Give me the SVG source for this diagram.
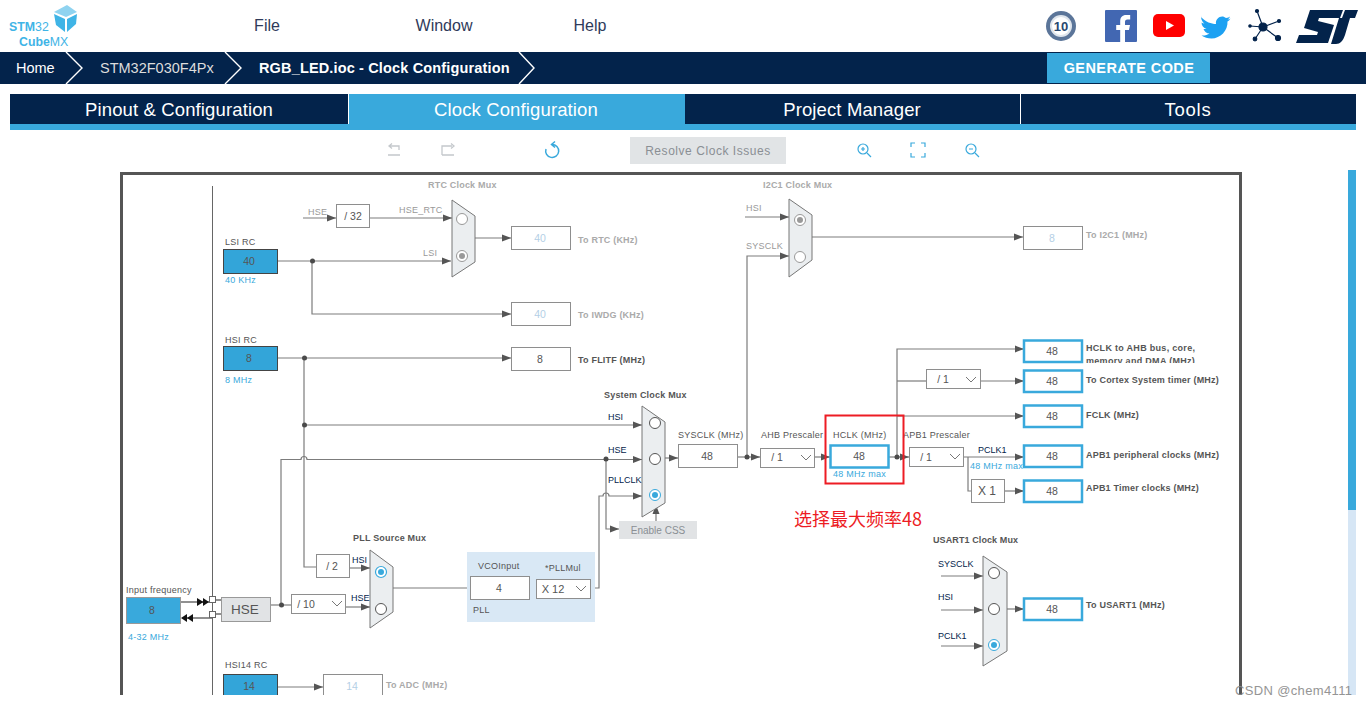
<svg xmlns="http://www.w3.org/2000/svg" width="1366" height="705" viewBox="0 0 1366 705">
<style>
text{font-family:"Liberation Sans",Arial,sans-serif;fill:#555}
.nav{font-size:16px;fill:#2f3a5a;text-anchor:middle}
.crumb{font-size:14.5px;fill:#fff}
.tab{font-size:18.5px;fill:#fff;text-anchor:middle;letter-spacing:.13px}
.lb{font-size:9px;letter-spacing:.25px}
.lbg{font-size:9px;fill:#999;letter-spacing:.25px}
.t{font-size:9px;font-weight:bold;fill:#555;letter-spacing:.2px}
.tg{font-size:9px;font-weight:bold;fill:#aaa;letter-spacing:.2px}
.sig{font-size:9px;fill:#03234b}
.blue{font-size:9px;fill:#39a9dc;letter-spacing:.25px}
.v{font-size:10.5px;text-anchor:middle;fill:#555}
.vd{font-size:10.5px;text-anchor:middle;fill:#b4cfe6}
.box{fill:#fff;stroke:#8e8e8e;stroke-width:1}
.src{fill:#33a5d9;stroke:#444;stroke-width:1}
.out{fill:#fff;stroke:#39a9dc;stroke-width:2.5}
.mux{fill:#ebeef0;stroke:#777;stroke-width:1}
.r{fill:#fff;stroke:#555;stroke-width:1}
.rg{fill:#fff;stroke:#999;stroke-width:1}
.ra{fill:#fff;stroke:#39a9dc;stroke-width:1}
.da{fill:#39a9dc}
.dg{fill:#999}
.w{fill:none;stroke:#7c7c7c;stroke-width:1.2}
.a{marker-end:url(#ah)}
.dot{fill:#4a4a4a}
.chev{fill:none;stroke:#777;stroke-width:1}
.crumbline{fill:none;stroke:#fff;stroke-width:1.4}
.ic{fill:none;stroke:#c4c8cc;stroke-width:1.3}
.icb{fill:none;stroke:#39a9dc;stroke-width:1.2}
</style>
<defs>
<marker id="ah" markerUnits="userSpaceOnUse" markerWidth="10" markerHeight="8" refX="9" refY="4" orient="auto"><path d="M0 .5 9 4 0 7.500z" fill="#555"/></marker>
</defs>
<rect width="1366" height="705" fill="#fff"/>

<g id="header">
<path d="M67 5 77 12 66 17 54 12z" fill="#8fd3f0"/>
<path d="M54 14 65 19 65 32 56 25z" fill="#3fb4e6"/>
<path d="M77 14 67 19 67 32 76 24z" fill="#3fb4e6"/>
<text transform="scale(.95 1)" style="font-size:13px;fill:#3fb4e6;font-weight:bold"><tspan x="9.470" y="31">STM<tspan font-weight="normal">32</tspan></tspan><tspan x="20" y="46">Cube<tspan font-weight="normal">MX</tspan></tspan></text>
<text class="nav" x="267" y="31">File</text>
<text class="nav" x="444" y="31">Window</text>
<text class="nav" x="590" y="31">Help</text>
<circle cx="1061" cy="26" r="15" fill="#5b7599"/><circle cx="1061" cy="26" r="11" fill="#dfe5ec"/><circle cx="1061" cy="26" r="9" fill="#fff"/>
<text x="1061" y="31" style="font-size:13px;font-weight:bold;fill:#27476e;text-anchor:middle">10</text>
<rect x="1105" y="10" width="32" height="32" rx="1" fill="#4267b2"/>
<path d="M1125 42V30h4l1-5h-5v-3c0-1.500.6-2.500 2.500-2.500h2.700V15h-4c-4 0-6 2.500-6 6v4h-4v5h4v12z" fill="#fff"/>
<rect x="1153" y="14" width="32" height="23" rx="5" fill="#f00"/>
<path d="M1166 21v9l8-4.500z" fill="#fff"/>
<path d="M1201 17c5 5 10 7 15 7-1-6 6-10 10-6 2 0 3-1 4-1.500-.5 1.500-1.500 2.500-2.500 3 1 0 2-.5 3-1-1 1.500-2 2.500-3 3 .5 9-7 17-16 17-4 0-7-1-10-3 3 .3 6-.5 8-2-3 0-5-2-6-4.500h3c-3-1-5-3.500-5-6.500 1 .5 2 1 3 1-3-2-4-6-3-9z" fill="#1da1f2"/>
<g fill="#03234b" stroke="#03234b" stroke-width="1.200">
<path d="M1263 27 1257 11M1263 27 1279 21M1263 27 1250 26M1263 27 1255 39M1263 27 1278 38" fill="none"/>
<circle cx="1263" cy="27" r="4"/><circle cx="1257" cy="11" r="1.500"/><circle cx="1279" cy="21" r="1.500"/><circle cx="1250" cy="26" r="1.200"/><circle cx="1255" cy="39" r="1.800"/><circle cx="1278" cy="38" r="2.500"/>
</g>
<path d="M1310 10H1343L1340 18H1319L1318 21L1334 25L1328 43H1296L1299 35H1317L1318 32L1304 28z" fill="#03234b"/>
<path d="M1345 10H1358L1355 18H1350L1345 35C1343 41 1340 44 1336 44H1331L1339 18H1342z" fill="#03234b"/>
</g>

<g id="breadcrumb">
<rect x="0" y="52" width="1366" height="32" fill="#03234b"/>
<text class="crumb" x="16" y="73">Home</text>
<path class="crumbline" d="M66 52 82 68 66 84"/>
<text class="crumb" x="100" y="73" style="fill:#ddd">STM32F030F4Px</text>
<path class="crumbline" d="M225 52 241 68 225 84"/>
<text class="crumb" x="259" y="73" style="font-weight:bold;letter-spacing:.15px">RGB_LED.ioc - Clock Configuration</text>
<path class="crumbline" d="M519 52 534 68 519 84"/>
<rect x="1047" y="53" width="163" height="30" fill="#39a9dc"/>
<text x="1129" y="73" style="font-size:14.500px;font-weight:bold;fill:#fff;text-anchor:middle;letter-spacing:.4px">GENERATE CODE</text>
</g>

<g id="tabs">
<rect x="10" y="94" width="1346" height="30" fill="#03234b"/>
<rect x="10" y="124" width="1346" height="6" fill="#39a9dc"/>
<rect x="349" y="94" width="336" height="30" fill="#39a9dc"/>
<path d="M348.500 94V124M1020.500 94V124" stroke="#fff" stroke-width="1"/>
<text class="tab" x="179" y="116">Pinout &amp; Configuration</text>
<text class="tab" x="516" y="116">Clock Configuration</text>
<text class="tab" x="852" y="116">Project Manager</text>
<text class="tab" x="1188" y="116" style="letter-spacing:.8px">Tools</text>
</g>

<g id="toolbar">
<path class="ic" d="M388 155H400M399 150V146H390M392 143.500 389 146 392 148.500"/>
<path class="ic" d="M442 155H454M442 155V146H452M451 143.500 454 146 451 148.500"/>
<path class="icb" style="stroke-width:1.500" d="M552 144.500A6.500 6.500 0 1 1 546 149M555 141.500 551.500 144.500 555 147.500"/>
<rect x="630" y="137" width="156" height="27" fill="#e1e4e6"/>
<text x="708" y="155" style="font-size:12px;fill:#8a8f94;text-anchor:middle;letter-spacing:.55px">Resolve Clock Issues</text>
<g class="icb"><circle cx="863" cy="149" r="5"/><path d="M867 153 871 157M861 149H865M863 147V151"/></g>
<path class="icb" d="M911 147V143H915M921 143H925V147M925 153V157H921M915 157H911V153"/>
<g class="icb"><circle cx="971" cy="149" r="5"/><path d="M975 153 979 157M969 149H973"/></g>
</g>

<g id="frame">
<path d="M121.500 695V173.500H1240.500V695" fill="none" stroke="#555" stroke-width="3"/>
<path d="M212.500 186V695" stroke="#666" stroke-width="1" fill="none"/>
<rect x="1348" y="170" width="8" height="525" fill="#d6e6f5"/>
<rect x="1348" y="170" width="8" height="340" fill="#39a9dc"/>
</g>

<g id="connectors">
<path class="w a" d="M303 218H336"/>
<path class="w a" d="M370 218H452"/>
<path class="w a" d="M277 261H451"/>
<path class="w a" d="M312 261V314H511"/>
<path class="w a" d="M475 238H511"/>
<path class="w a" d="M277 358H511"/>
<path class="w" d="M304 358V567H316"/>
<path class="w a" d="M304 425H642"/>
<path class="w a" d="M281 605V459.500H301a3 3 0 0 1 6 0H642"/>
<path class="w a" d="M606 459V529H619"/>
<path class="w a" d="M591 588H599V496H603a3 3 0 0 1 6 0H642"/>
<path class="w a" d="M656 521V505"/>
<path class="w a" d="M350 568H370"/>
<path class="w" d="M270 605H291"/>
<path class="w a" d="M345 607H370"/>
<path class="w" d="M393 588H470M530 588H536"/>
<path d="M181 602H210M212 618H183M215 600H221M215 614H221" stroke="#222" stroke-width="1.200" fill="none"/>
<path d="M197 598 203.500 602 197 606zM203 598 209 602 203 606zM187 614 181 618 187 622zM193 614 187 618 193 622z" fill="#111"/>
<path class="w a" d="M277 687H323"/>
<path class="w a" d="M665 458H678"/>
<path class="w a" d="M738 457H760"/>
<path class="w a" d="M747 457V256H789"/>
<path class="w a" d="M745 217H789"/>
<path class="w a" d="M812 237H1023"/>
<path class="w a" d="M815 457H830"/>
<path class="w a" d="M889 457H909"/>
<path class="w a" d="M897 457V349H1024"/>
<path class="w" d="M897 381H926"/>
<path class="w a" d="M980 381H1024"/>
<path class="w a" d="M897 416H1024"/>
<path class="w a" d="M964 457H1024"/>
<path class="w" d="M968 457V491H971"/>
<path class="w a" d="M1004 491H1024"/>
<path class="w a" d="M941 576H983"/>
<path class="w a" d="M941 610H983"/>
<path class="w a" d="M941 646H983"/>
<path class="w a" d="M1007 609H1024"/>
<circle class="dot" cx="312.500" cy="261" r="2.500"/>
<circle class="dot" cx="304.500" cy="358" r="2.500"/>
<circle class="dot" cx="304.500" cy="425" r="2.500"/>
<circle class="dot" cx="281.500" cy="605" r="2.500"/>
<circle class="dot" cx="606" cy="459" r="2.500"/>
<circle class="dot" cx="747" cy="457" r="2.500"/>
<circle class="dot" cx="897" cy="457" r="2.500"/>
</g>

<g id="rtc-mux">
<text class="tg" x="428" y="188">RTC Clock Mux</text>
<path class="mux" d="M452 200 475 216V262L452 277z"/>
<circle class="rg" cx="462" cy="219" r="5.500"/><circle class="rg" cx="462" cy="256" r="5.500"/><circle class="dg" cx="462" cy="256" r="3"/>
<text class="lbg" x="308" y="215">HSE</text><text class="lbg" x="399" y="213">HSE_RTC</text><text class="lbg" x="423" y="256">LSI</text>
</g>
<g id="div32"><rect class="box" x="336.500" y="204.500" width="33" height="23"/><text class="v" x="353" y="220">/ 32</text></g>
<g id="lsi-rc"><text class="lb" x="225" y="245">LSI RC</text><rect class="src" x="223.500" y="249.500" width="54" height="24"/><text class="v" x="249" y="265">40</text><text class="blue" x="225" y="283">40 KHz</text></g>
<g id="hsi-rc"><text class="lb" x="225" y="343">HSI RC</text><rect class="src" x="223.500" y="346.500" width="54" height="24"/><text class="v" x="249" y="362">8</text><text class="blue" x="225" y="383">8 MHz</text></g>
<g id="to-rtc"><rect class="box" x="511.500" y="226.500" width="59" height="23"/><text class="vd" x="540" y="242">40</text><text class="tg" x="578" y="243">To RTC (KHz)</text></g>
<g id="to-iwdg"><rect class="box" x="511.500" y="302.500" width="59" height="23"/><text class="vd" x="540" y="318">40</text><text class="tg" x="578" y="318">To IWDG (KHz)</text></g>
<g id="to-flitf"><rect class="box" x="511.500" y="347.500" width="59" height="23"/><text class="v" x="540" y="363">8</text><text class="t" x="578" y="363">To FLITF (MHz)</text></g>

<g id="i2c1-mux">
<text class="tg" x="763" y="188">I2C1 Clock Mux</text>
<path class="mux" d="M789 199 812 215V260L789 277z"/>
<circle class="rg" cx="800" cy="220" r="5.500"/><circle class="dg" cx="800" cy="220" r="3"/><circle class="rg" cx="800" cy="257" r="5.500"/>
<text class="lbg" x="746" y="211">HSI</text><text class="lbg" x="746" y="249">SYSCLK</text>
</g>
<g id="to-i2c1"><rect class="box" x="1023.500" y="226.500" width="59" height="23"/><text class="vd" x="1052" y="242">8</text><text class="tg" x="1086" y="238">To I2C1 (MHz)</text></g>

<g id="system-mux">
<text class="t" x="604" y="398">System Clock Mux</text>
<path class="mux" d="M642 406 665 422V503L642 517z"/>
<circle class="r" cx="655" cy="423" r="5.500"/><circle class="r" cx="655" cy="459" r="5.500"/><circle class="ra" cx="655" cy="495" r="5.500"/><circle class="da" cx="655" cy="495" r="3"/>
<text class="sig" x="608" y="420">HSI</text><text class="sig" x="608" y="453">HSE</text><text class="sig" x="608" y="483">PLLCLK</text>
</g>
<g id="enable-css"><rect x="619" y="521" width="78" height="18" fill="#e1e3e5"/><text x="658" y="534" style="font-size:10px;fill:#8a8f94;text-anchor:middle">Enable CSS</text></g>
<g id="sysclk"><text class="lb" x="678" y="438">SYSCLK (MHz)</text><rect class="box" x="678.500" y="444.500" width="59" height="23"/><text class="v" x="707" y="460">48</text></g>
<g id="ahb"><text class="lb" x="761" y="438">AHB Prescaler</text><rect class="box" x="760.500" y="448.500" width="54" height="19"/><text class="v" x="777" y="461">/ 1</text><path class="chev" d="M801 455 806 460 811 455"/></g>
<g id="hclk"><text class="lb" x="833" y="438">HCLK (MHz)</text><rect class="out" x="830.500" y="445.500" width="58" height="22"/><text class="v" x="859" y="460">48</text><text class="blue" x="833" y="477">48 MHz max</text></g>
<g id="apb1"><text class="lb" x="903" y="438">APB1 Prescaler</text><rect class="box" x="909.500" y="447.500" width="54" height="19"/><text class="v" x="926" y="461">/ 1</text><path class="chev" d="M950 454 955 459 960 454"/><text class="sig" x="978" y="453">PCLK1</text><text class="blue" x="970" y="469">48 MHz max</text></g>
<g id="cortex-div"><rect class="box" x="926.500" y="369.500" width="54" height="19"/><text class="v" x="943" y="383">/ 1</text><path class="chev" d="M966 377 971 382 976 377"/></g>
<g id="x1"><rect class="box" x="971.500" y="479.500" width="33" height="23"/><text class="v" x="987" y="495" style="font-size:12px">X 1</text></g>

<g id="hclk-ahb"><rect class="out" x="1024" y="340.500" width="58" height="21.500"/><text class="v" x="1052" y="355">48</text>
<text class="t" x="1086" y="351" style="letter-spacing:.3px">HCLK to AHB bus, core,</text>
<clipPath id="cl"><rect x="1084" y="353" width="130" height="10"/></clipPath><text class="t" x="1086" y="364" clip-path="url(#cl)" style="letter-spacing:.3px">memory and DMA (MHz)</text></g>
<g id="cortex"><rect class="out" x="1024" y="370.500" width="58" height="21.500"/><text class="v" x="1052" y="385">48</text><text class="t" x="1086" y="383">To Cortex System timer (MHz)</text></g>
<g id="fclk"><rect class="out" x="1024" y="405.500" width="58" height="21.500"/><text class="v" x="1052" y="420">48</text><text class="t" x="1086" y="418">FCLK (MHz)</text></g>
<g id="apb1-per"><rect class="out" x="1024" y="445.500" width="58" height="21.500"/><text class="v" x="1052" y="460">48</text><text class="t" x="1086" y="458">APB1 peripheral clocks (MHz)</text></g>
<g id="apb1-tim"><rect class="out" x="1024" y="480.500" width="58" height="21.500"/><text class="v" x="1052" y="495">48</text><text class="t" x="1086" y="491">APB1 Timer clocks (MHz)</text></g>

<g id="usart1-mux">
<text class="t" x="933" y="543" style="letter-spacing:.1px">USART1 Clock Mux</text>
<path class="mux" d="M983 556 1007 572V651L983 666z"/>
<circle class="r" cx="994" cy="573" r="5.500"/><circle class="r" cx="994" cy="609" r="5.500"/><circle class="ra" cx="994" cy="645" r="5.500"/><circle class="da" cx="994" cy="645" r="3"/>
<text class="sig" x="938" y="567">SYSCLK</text><text class="sig" x="938" y="600">HSI</text><text class="sig" x="938" y="639">PCLK1</text>
</g>
<g id="to-usart1"><rect class="out" x="1024" y="598.500" width="58" height="21.500"/><text class="v" x="1052" y="613">48</text><text class="t" x="1086" y="608">To USART1 (MHz)</text></g>

<g id="pll-mux">
<text class="t" x="353" y="541">PLL  Source Mux</text>
<path class="mux" d="M370 550 393 567V612L370 628z"/>
<circle class="ra" style="stroke-width:1.200" cx="381" cy="572" r="5.500"/><circle class="da" cx="381" cy="572" r="3"/><circle class="r" cx="381" cy="609" r="5.500"/>
<text class="sig" x="352" y="563">HSI</text><text class="sig" x="351" y="601">HSE</text>
</g>
<g id="div2"><rect class="box" x="316.500" y="554.500" width="33" height="23"/><text class="v" x="332" y="570">/ 2</text></g>
<g id="div10"><rect class="box" x="291.500" y="594.500" width="54" height="19"/><text class="v" x="306" y="608">/ 10</text><path class="chev" d="M332 601 337 606 342 601"/></g>
<g id="hse"><rect x="221.500" y="597.500" width="49" height="24" fill="#e1e3e5" stroke="#999"/><text x="245" y="614" style="font-size:13.500px;text-anchor:middle">HSE</text></g>
<g id="input-freq"><text class="lb" x="126" y="593">Input frequency</text><rect x="126.500" y="597.500" width="54" height="26" fill="#39a9dc" stroke="#999"/><text class="v" x="152" y="614">8</text><text class="blue" x="128" y="640">4-32 MHz</text></g>
<g id="pads"><rect x="209.500" y="596.500" width="6" height="6" fill="#fff" stroke="#666"/><rect x="209.500" y="611.500" width="6" height="6" fill="#fff" stroke="#666"/></g>
<g id="pll"><rect x="467" y="552" width="128" height="70" fill="#d9e8f5"/>
<text class="lb" x="478" y="569">VCOInput</text><text class="lb" x="545" y="571">*PLLMul</text>
<rect class="box" x="470.500" y="576.500" width="59" height="23"/><text class="v" x="499" y="592">4</text>
<rect class="box" x="536.500" y="579.500" width="54" height="19"/><text class="v" x="553" y="593" style="font-size:11px">X 12</text><path class="chev" d="M576 586 581 591 586 586"/>
<text class="lb" x="473" y="613">PLL</text></g>
<g id="hsi14"><text class="lb" x="225" y="668">HSI14 RC</text><rect class="src" x="223.500" y="674.500" width="54" height="30"/><text class="v" x="249" y="690">14</text></g>
<g id="to-adc"><rect class="box" x="323.500" y="674.500" width="59" height="30"/><text class="vd" x="352" y="690">14</text><text class="tg" x="386" y="688">To ADC (MHz)</text></g>

<rect x="0" y="695" width="1366" height="10" fill="#fff"/>

<g id="annotation">
<rect x="825.500" y="415.500" width="78" height="68" fill="none" stroke="#ed1c24" stroke-width="2"/>
<text x="794" y="526" style="font-family:'Noto Sans CJK SC','Liberation Sans',sans-serif;font-size:18px;fill:#ed1c24">选择最大频率48</text>
</g>
<text x="1235" y="695" style="font-size:13px;fill:#8a8a8a;opacity:.9;letter-spacing:.35px">CSDN @chem4111</text>
</svg>
